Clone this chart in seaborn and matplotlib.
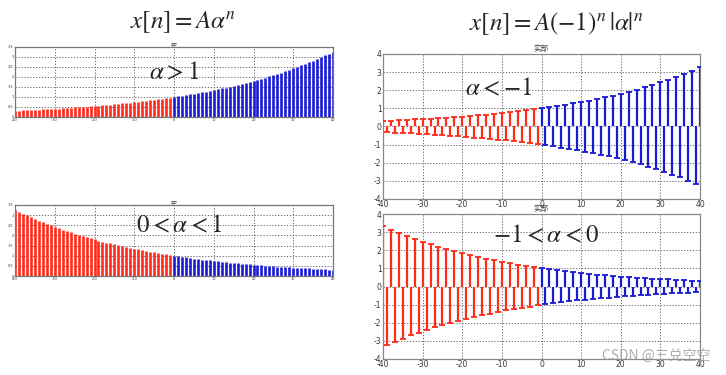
import matplotlib
matplotlib.use("Agg")
import matplotlib.pyplot as plt
import seaborn as sns
import pandas as pd

sns.set_style("whitegrid")
plt.rcParams['font.family'] = ['DejaVu Sans', 'Noto Sans CJK SC']
plt.rcParams['mathtext.fontset'] = 'stix'

n_vals = list(range(-40, 41))

growth = [0.31, 0.32, 0.33, 0.34, 0.35, 0.36, 0.37, 0.38, 0.39, 0.40,
          0.41, 0.42, 0.44, 0.45, 0.46, 0.48, 0.49, 0.51, 0.52, 0.54,
          0.55, 0.57, 0.59, 0.61, 0.62, 0.64, 0.66, 0.68, 0.70, 0.72,
          0.74, 0.77, 0.79, 0.81, 0.84, 0.86, 0.89, 0.92, 0.94, 0.97,
          1.00,
          1.03, 1.06, 1.09, 1.13, 1.16, 1.19, 1.23, 1.27, 1.31, 1.34,
          1.38, 1.43, 1.47, 1.51, 1.56, 1.61, 1.65, 1.70, 1.75, 1.81,
          1.86, 1.92, 1.97, 2.03, 2.09, 2.16, 2.22, 2.29, 2.36, 2.43,
          2.50, 2.58, 2.65, 2.73, 2.81, 2.90, 2.99, 3.08, 3.17, 3.26]

decay = [3.26, 3.17, 3.08, 2.99, 2.90, 2.81, 2.73, 2.65, 2.58, 2.50,
         2.43, 2.36, 2.29, 2.22, 2.16, 2.09, 2.03, 1.97, 1.92, 1.86,
         1.81, 1.75, 1.70, 1.65, 1.61, 1.56, 1.51, 1.47, 1.43, 1.38,
         1.34, 1.31, 1.27, 1.23, 1.19, 1.16, 1.13, 1.09, 1.06, 1.03,
         1.00,
         0.97, 0.94, 0.92, 0.89, 0.86, 0.84, 0.81, 0.79, 0.77, 0.74,
         0.72, 0.70, 0.68, 0.66, 0.64, 0.62, 0.61, 0.59, 0.57, 0.55,
         0.54, 0.52, 0.51, 0.49, 0.48, 0.46, 0.45, 0.44, 0.42, 0.41,
         0.40, 0.39, 0.38, 0.37, 0.36, 0.35, 0.34, 0.33, 0.32, 0.31]

alt_grow = [0.31, -0.32, 0.33, -0.34, 0.35, -0.36, 0.37, -0.38, 0.39, -0.40,
            0.41, -0.42, 0.44, -0.45, 0.46, -0.48, 0.49, -0.51, 0.52, -0.54,
            0.55, -0.57, 0.59, -0.61, 0.62, -0.64, 0.66, -0.68, 0.70, -0.72,
            0.74, -0.77, 0.79, -0.81, 0.84, -0.86, 0.89, -0.92, 0.94, -0.97,
            1.00,
            -1.03, 1.06, -1.09, 1.13, -1.16, 1.19, -1.23, 1.27, -1.31, 1.34,
            -1.38, 1.43, -1.47, 1.51, -1.56, 1.61, -1.65, 1.70, -1.75, 1.81,
            -1.86, 1.92, -1.97, 2.03, -2.09, 2.16, -2.22, 2.29, -2.36, 2.43,
            -2.50, 2.58, -2.65, 2.73, -2.81, 2.90, -2.99, 3.08, -3.17, 3.26]

alt_decay = [3.34, -3.24, 3.14, -3.05, 2.96, -2.87, 2.79, -2.70, 2.62, -2.55,
             2.47, -2.40, 2.33, -2.26, 2.19, -2.13, 2.07, -2.01, 1.95, -1.89,
             1.84, -1.78, 1.73, -1.68, 1.63, -1.58, 1.53, -1.49, 1.45, -1.40,
             1.36, -1.32, 1.28, -1.25, 1.21, -1.17, 1.14, -1.11, 1.07, -1.04,
             1.00,
             -0.97, 0.94, -0.92, 0.89, -0.86, 0.84, -0.81, 0.79, -0.77, 0.74,
             -0.72, 0.70, -0.68, 0.66, -0.64, 0.62, -0.61, 0.59, -0.57, 0.55,
             -0.54, 0.52, -0.51, 0.49, -0.48, 0.46, -0.45, 0.44, -0.42, 0.41,
             -0.40, 0.39, -0.38, 0.37, -0.36, 0.35, -0.34, 0.33, -0.32, 0.31]

left_yticks = [0, 0.5, 1, 1.5, 2, 2.5, 3, 3.5]
right_yticks = [-4, -3, -2, -1, 0, 1, 2, 3, 4]
xticks = [-40, -30, -20, -10, 0, 10, 20, 30, 40]

RED = '#ff2a1a'
BLUE = '#1a1ad6'

W, H = 726, 375
fig = plt.figure(figsize=(W / 100, H / 100), dpi=100)


def make_ax(l, t, r, b):
    return fig.add_axes([l / W, 1 - b / H, (r - l) / W, (b - t) / H])


def style(ax, yt, ylim, fs, framecol):
    ax.set_xlim(-40, 40)
    ax.set_ylim(*ylim)
    ax.set_xticks(xticks)
    ax.set_yticks(yt)
    ax.set_xticklabels([str(v) for v in xticks])
    ax.set_yticklabels([('%g' % v) for v in yt])
    ax.tick_params(labelsize=fs, colors='#333333', length=0, pad=1)
    ax.grid(True, color='#555555', linestyle=(0, (1.5, 2)), linewidth=0.6)
    for s in ax.spines.values():
        s.set_color(framecol)
        s.set_linewidth(0.9)
    ax.set_xlabel('')
    ax.set_ylabel('')


def draw(ax, vals, lw, marker):
    df = pd.DataFrame({'n': n_vals, 'x': vals})
    df['grp'] = ['neg' if v < 0 else 'pos' for v in n_vals]
    for g, c in (('neg', RED), ('pos', BLUE)):
        d = df[df['grp'] == g]
        ax.vlines(d['n'], 0, d['x'], color=c, linewidth=lw)
        if marker:
            sns.scatterplot(data=d, x='n', y='x', ax=ax, color=c, marker='_',
                            s=14, linewidth=1.3, legend=False, zorder=3)


# left column
ax1 = make_ax(15, 47, 333, 117)
draw(ax1, growth, 1.9, False)
style(ax1, left_yticks, (0, 3.5), 2.5, '#777777')
ax1.set_title('实部', fontsize=2.5, pad=1, color='#555555',
              family=['Noto Sans CJK SC'])

ax2 = make_ax(15, 205, 333, 276)
draw(ax2, decay, 1.9, False)
style(ax2, left_yticks, (0, 3.5), 2.5, '#777777')
ax2.set_title('实部', fontsize=2.5, pad=1, color='#555555',
              family=['Noto Sans CJK SC'])

# right column
ax3 = make_ax(383, 54, 700, 199)
draw(ax3, alt_grow, 1.6, True)
style(ax3, right_yticks, (-4, 4), 5.5, '#888888')
ax3.set_title('实部', fontsize=5.5, pad=2, color='#444444',
              family=['Noto Sans CJK SC'])

ax4 = make_ax(383, 214, 700, 359)
draw(ax4, alt_decay, 1.6, True)
style(ax4, right_yticks, (-4, 4), 5.5, '#888888')
ax4.set_title('实部', fontsize=5.5, pad=2, color='#444444',
              family=['Noto Sans CJK SC'])

# big formula titles and annotations
fig.text(183 / W, 1 - 22 / H, r'$x\left[n\right] = A\alpha^{n}$',
         fontsize=18, ha='center', va='center')
fig.text(556 / W, 1 - 24 / H,
         r'$x\left[n\right] = A\left(\mathrm{-1}\right)^{n}\,|\alpha|^{n}$',
         fontsize=18, ha='center', va='center')

fig.text(174 / W, 1 - 72 / H, r'$\alpha > 1$', fontsize=18, ha='center', va='center')
fig.text(179 / W, 1 - 225 / H, r'$0 < \alpha < 1$', fontsize=18, ha='center', va='center')
fig.text(499 / W, 1 - 88 / H, r'$\alpha < \mathrm{-1}$', fontsize=18, ha='center', va='center')
fig.text(546 / W, 1 - 235 / H, r'$-1 < \alpha < 0$', fontsize=18, ha='center', va='center')

fig.text(710 / W, 1 - 356 / H, 'CSDN @三兑空空', fontsize=10, ha='right', va='center',
         color='#999999', alpha=0.8, family=['Noto Sans CJK SC', 'DejaVu Sans'])

fig.savefig('out.png', dpi=100)
